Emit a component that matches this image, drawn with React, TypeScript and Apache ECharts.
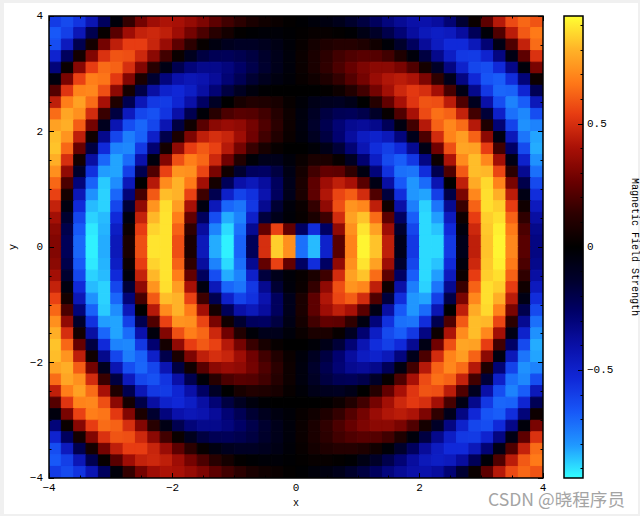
import React, { useEffect, useRef } from "react";
import * as echarts from "echarts";

// Cell values in hundredths. Estimated on a coarse 40x40 grid from ring radii and
// peak colours measured on the reference; not individually read per cell.
const xCenters = [-3.9,-3.7,-3.5,-3.3,-3.1,-2.9,-2.7,-2.5,-2.3,-2.1,-1.9,-1.7,-1.5,-1.3,-1.1,-0.9,-0.7,-0.5,-0.3,-0.1,0.1,0.3,0.5,0.7,0.9,1.1,1.3,1.5,1.7,1.9,2.1,2.3,2.5,2.7,2.9,3.1,3.3,3.5,3.7,3.9];
const yCenters = [3.9,3.7,3.5,3.3,3.1,2.9,2.7,2.5,2.3,2.1,1.9,1.7,1.5,1.3,1.1,0.9,0.7,0.5,0.3,0.1,-0.1,-0.3,-0.5,-0.7,-0.9,-1.1,-1.3,-1.5,-1.7,-1.9,-2.1,-2.3,-2.5,-2.7,-2.9,-3.1,-3.3,-3.5,-3.7,-3.9];
const fieldRows = [
[-59,-63,-57,-43,-24,-3,15,29,38,41,40,36,31,24,18,13,8,5,3,1,-1,-3,-5,-8,-13,-18,-24,-31,-36,-40,-41,-38,-29,-15,3,24,43,57,63,59],
[-67,-60,-44,-21,2,23,38,46,48,45,38,29,20,12,6,1,-1,-2,-2,-1,1,2,2,1,-1,-6,-12,-20,-29,-38,-45,-48,-46,-38,-23,-2,21,44,60,67],
[-64,-46,-21,6,29,45,54,54,47,37,24,13,2,-5,-9,-11,-11,-9,-6,-2,2,6,9,11,11,9,5,-2,-13,-24,-37,-47,-54,-54,-45,-29,-6,21,46,64],
[-51,-24,6,32,51,59,58,48,34,18,3,-9,-18,-22,-23,-21,-18,-13,-8,-3,3,8,13,18,21,23,22,18,9,-3,-18,-34,-48,-58,-59,-51,-32,-6,24,51],
[-30,3,33,54,64,62,50,32,12,-6,-21,-30,-34,-34,-31,-26,-20,-14,-8,-3,3,8,14,20,26,31,34,34,30,21,6,-12,-32,-50,-62,-64,-54,-33,-3,30],
[-4,30,55,68,66,53,32,8,-14,-31,-41,-44,-42,-37,-29,-22,-15,-9,-5,-2,2,5,9,15,22,29,37,42,44,41,31,14,-8,-32,-53,-66,-68,-55,-30,4],
[22,52,69,70,58,34,6,-19,-39,-50,-53,-48,-39,-29,-18,-10,-4,-1,0,0,0,0,1,4,10,18,29,39,48,53,50,39,19,-6,-34,-58,-70,-69,-52,-22],
[45,68,76,64,40,9,-21,-44,-58,-59,-52,-40,-25,-11,0,7,10,9,7,2,-2,-7,-9,-10,-7,0,11,25,40,52,59,58,44,21,-9,-40,-64,-76,-68,-45],
[64,77,72,49,16,-18,-46,-62,-65,-57,-40,-21,-2,12,20,23,22,18,11,4,-4,-11,-18,-22,-23,-20,-12,2,21,40,57,65,62,46,18,-16,-49,-72,-77,-64],
[76,79,61,29,-9,-43,-64,-70,-62,-43,-18,5,23,34,37,35,29,21,13,4,-4,-13,-21,-29,-35,-37,-34,-23,-5,18,43,62,70,64,43,9,-29,-61,-79,-76],
[82,73,45,5,-34,-62,-75,-69,-49,-20,8,31,45,50,47,38,28,18,10,3,-3,-10,-18,-28,-38,-47,-50,-45,-31,-8,20,49,69,75,62,34,-5,-45,-73,-82],
[83,63,26,-18,-54,-76,-77,-58,-28,6,35,54,60,55,43,29,16,7,2,0,0,-2,-7,-16,-29,-43,-55,-60,-54,-35,-6,28,58,77,76,54,18,-26,-63,-83],
[79,50,6,-39,-70,-82,-71,-41,-4,32,58,68,63,48,28,10,-2,-8,-8,-3,3,8,8,2,-10,-28,-48,-63,-68,-58,-32,4,41,71,82,70,39,-6,-50,-79],
[72,35,-13,-56,-81,-82,-60,-21,21,55,73,72,56,30,5,-14,-24,-25,-18,-6,6,18,25,24,14,-5,-30,-56,-72,-73,-55,-21,21,60,82,81,56,13,-35,-72],
[63,20,-30,-69,-87,-78,-45,0,43,71,80,67,39,6,-23,-40,-45,-38,-24,-8,8,24,38,45,40,23,-6,-39,-67,-80,-71,-43,0,45,78,87,69,30,-20,-63],
[55,6,-44,-79,-88,-70,-30,19,60,82,80,55,17,-21,-49,-61,-56,-42,-24,-8,8,24,42,56,61,49,21,-17,-55,-80,-82,-60,-19,30,70,88,79,44,-6,-55],
[46,-5,-54,-85,-88,-62,-16,35,73,88,75,40,-5,-45,-70,-73,-58,-35,-15,-3,3,15,35,58,73,70,45,5,-40,-75,-88,-73,-35,16,62,88,85,54,5,-46],
[39,-14,-62,-88,-85,-54,-4,46,81,89,68,25,-24,-64,-83,-76,-49,-17,-8,-2,2,8,17,49,76,83,64,24,-25,-68,-89,-81,-46,4,54,85,88,62,14,-39],
[34,-20,-67,-91,-84,-48,4,54,86,89,62,14,-38,-76,-89,-72,-35,25,55,25,-25,-55,-25,35,72,89,76,38,-14,-62,-89,-86,-54,-4,48,84,91,67,20,-34],
[32,-23,-70,-92,-83,-45,8,58,89,89,58,8,-45,-83,-92,-69,-23,50,85,72,-72,-85,-50,23,69,92,83,45,-8,-58,-89,-89,-58,-8,45,83,92,70,23,-32],
[32,-23,-70,-92,-83,-45,8,58,89,89,58,8,-45,-83,-92,-69,-23,50,85,72,-72,-85,-50,23,69,92,83,45,-8,-58,-89,-89,-58,-8,45,83,92,70,23,-32],
[34,-20,-67,-91,-84,-48,4,54,86,89,62,14,-38,-76,-89,-72,-35,25,55,25,-25,-55,-25,35,72,89,76,38,-14,-62,-89,-86,-54,-4,48,84,91,67,20,-34],
[39,-14,-62,-88,-85,-54,-4,46,81,89,68,25,-24,-64,-83,-76,-49,-17,-8,-2,2,8,17,49,76,83,64,24,-25,-68,-89,-81,-46,4,54,85,88,62,14,-39],
[46,-5,-54,-85,-88,-62,-16,35,73,88,75,40,-5,-45,-70,-73,-58,-35,-15,-3,3,15,35,58,73,70,45,5,-40,-75,-88,-73,-35,16,62,88,85,54,5,-46],
[55,6,-44,-79,-88,-70,-30,19,60,82,80,55,17,-21,-49,-61,-56,-42,-24,-8,8,24,42,56,61,49,21,-17,-55,-80,-82,-60,-19,30,70,88,79,44,-6,-55],
[63,20,-30,-69,-87,-78,-45,0,43,71,80,67,39,6,-23,-40,-45,-38,-24,-8,8,24,38,45,40,23,-6,-39,-67,-80,-71,-43,0,45,78,87,69,30,-20,-63],
[72,35,-13,-56,-81,-82,-60,-21,21,55,73,72,56,30,5,-14,-24,-25,-18,-6,6,18,25,24,14,-5,-30,-56,-72,-73,-55,-21,21,60,82,81,56,13,-35,-72],
[79,50,6,-39,-70,-82,-71,-41,-4,32,58,68,63,48,28,10,-2,-8,-8,-3,3,8,8,2,-10,-28,-48,-63,-68,-58,-32,4,41,71,82,70,39,-6,-50,-79],
[83,63,26,-18,-54,-76,-77,-58,-28,6,35,54,60,55,43,29,16,7,2,0,0,-2,-7,-16,-29,-43,-55,-60,-54,-35,-6,28,58,77,76,54,18,-26,-63,-83],
[82,73,45,5,-34,-62,-75,-69,-49,-20,8,31,45,50,47,38,28,18,10,3,-3,-10,-18,-28,-38,-47,-50,-45,-31,-8,20,49,69,75,62,34,-5,-45,-73,-82],
[76,79,61,29,-9,-43,-64,-70,-62,-43,-18,5,23,34,37,35,29,21,13,4,-4,-13,-21,-29,-35,-37,-34,-23,-5,18,43,62,70,64,43,9,-29,-61,-79,-76],
[64,77,72,49,16,-18,-46,-62,-65,-57,-40,-21,-2,12,20,23,22,18,11,4,-4,-11,-18,-22,-23,-20,-12,2,21,40,57,65,62,46,18,-16,-49,-72,-77,-64],
[45,68,76,64,40,9,-21,-44,-58,-59,-52,-40,-25,-11,0,7,10,9,7,2,-2,-7,-9,-10,-7,0,11,25,40,52,59,58,44,21,-9,-40,-64,-76,-68,-45],
[22,52,69,70,58,34,6,-19,-39,-50,-53,-48,-39,-29,-18,-10,-4,-1,0,0,0,0,1,4,10,18,29,39,48,53,50,39,19,-6,-34,-58,-70,-69,-52,-22],
[-4,30,55,68,66,53,32,8,-14,-31,-41,-44,-42,-37,-29,-22,-15,-9,-5,-2,2,5,9,15,22,29,37,42,44,41,31,14,-8,-32,-53,-66,-68,-55,-30,4],
[-30,3,33,54,64,62,50,32,12,-6,-21,-30,-34,-34,-31,-26,-20,-14,-8,-3,3,8,14,20,26,31,34,34,30,21,6,-12,-32,-50,-62,-64,-54,-33,-3,30],
[-51,-24,6,32,51,59,58,48,34,18,3,-9,-18,-22,-23,-21,-18,-13,-8,-3,3,8,13,18,21,23,22,18,9,-3,-18,-34,-48,-58,-59,-51,-32,-6,24,51],
[-64,-46,-21,6,29,45,54,54,47,37,24,13,2,-5,-9,-11,-11,-9,-6,-2,2,6,9,11,11,9,5,-2,-13,-24,-37,-47,-54,-54,-45,-29,-6,21,46,64],
[-67,-60,-44,-21,2,23,38,46,48,45,38,29,20,12,6,1,-1,-2,-2,-1,1,2,2,1,-1,-6,-12,-20,-29,-38,-45,-48,-46,-38,-23,-2,21,44,60,67],
[-59,-63,-57,-43,-24,-3,15,29,38,41,40,36,31,24,18,13,8,5,3,1,-1,-3,-5,-8,-13,-18,-24,-31,-36,-40,-41,-38,-29,-15,3,24,43,57,63,59],
];
const barMin = -0.938;
const barMax = 0.938;
const barColors = ["#33ffff","#2098ff","#1858f8","#1028d8","#0a10a8","#00006a","#00002c","#000000","#2c0000","#6a0000","#a81006","#e63a12","#ff7a18","#ffb428","#ffff33"];
const barMinorTicks = [-0.9,-0.8,-0.7,-0.6,-0.4,-0.3,-0.2,-0.1,0.1,0.2,0.3,0.4,0.6,0.7,0.8,0.9];
const barMajorTicks = [-0.5,0,0.5];
const MONO = "Liberation Mono";
const halfCell = 0.1;

const fmt = (v: number) => String(v).replace("-", "\u2212");

export default function App() {
  const ref = useRef<HTMLDivElement>(null);
  useEffect(() => {
    document.body.style.margin = "0";
    const chart = echarts.init(ref.current!, null, { renderer: "svg" });
    const data: number[][] = [];
    fieldRows.forEach((row, j) => row.forEach((v, i) => data.push([xCenters[i], yCenters[j], v / 100])));
    const tick = { show: true, inside: true, length: 5, lineStyle: { color: "#000", width: 1 } };
    const minor = { show: true, splitNumber: 4, length: 2.5, lineStyle: { color: "#000", width: 1 } };
    const plotAxis = (position: string, labels: boolean, extra: any = {}) => ({
      type: "value", gridIndex: 0, min: -4, max: 4, interval: 2, position, z: 6,
      axisLine: { show: false, onZero: false }, splitLine: { show: false },
      axisTick: tick, minorTick: minor,
      axisLabel: { show: labels, formatter: fmt, color: "#000", fontFamily: MONO, fontSize: 11, margin: position === "bottom" ? 4 : 6 },
      ...extra,
    });
    const nameStyle = { color: "#000", fontFamily: MONO, fontSize: 10 };
    chart.setOption({
      animation: false,
      backgroundColor: "transparent",
      grid: [
        { left: 49, top: 16, width: 494, height: 462, show: true, borderColor: "#000", borderWidth: 1.5, backgroundColor: "transparent", z: 5 },
        { left: 564, top: 16, width: 19.5, height: 462, show: true, borderColor: "#000", borderWidth: 1.5, backgroundColor: "transparent", z: 5 },
      ],
      xAxis: [
        plotAxis("bottom", true, { name: "x", nameLocation: "middle", nameGap: 20, nameTextStyle: nameStyle }),
        plotAxis("top", false),
        { type: "value", gridIndex: 1, min: 0, max: 1, show: false },
      ],
      yAxis: [
        plotAxis("left", true, { name: "y", nameLocation: "middle", nameGap: 24, nameTextStyle: nameStyle }),
        plotAxis("right", false),
        {
          type: "value", gridIndex: 1, min: barMin, max: barMax, position: "right", z: 6,
          axisLine: { show: false, onZero: false }, splitLine: { show: false },
          axisTick: { show: true, inside: true, length: 2.5, customValues: barMinorTicks, lineStyle: { color: "#000", width: 1 } },
          axisLabel: { show: false },
        },
        {
          type: "value", gridIndex: 1, min: barMin, max: barMax, position: "right", z: 6,
          axisLine: { show: false, onZero: false }, splitLine: { show: false },
          axisTick: { show: true, inside: true, length: 5, customValues: barMajorTicks, lineStyle: { color: "#000", width: 1 } },
          axisLabel: { show: true, customValues: barMajorTicks, formatter: fmt, color: "#000", fontFamily: MONO, fontSize: 11, margin: 4 },
          name: "Magnetic Field Strength", nameLocation: "middle", nameRotate: -90, nameGap: 46, nameTextStyle: nameStyle,
        },
      ],
      visualMap: {
        type: "continuous", seriesIndex: 0, dimension: 2, min: barMin, max: barMax,
        left: 564, top: 16, itemWidth: 19.5, itemHeight: 462, padding: 0, calculable: false, text: null,
        showLabel: false, hoverLink: false, z: 1, inRange: { color: barColors },
      },
      graphic: [
        { type: "text", x: 488, y: 493, z: 20, style: { text: "CSDN @晓程序员", fill: "#a4a4a4", fontFamily: "Noto Sans CJK SC", fontSize: 17.6, lineHeight: 10 } },
      ],
      series: [
        {
          type: "custom", xAxisIndex: 0, yAxisIndex: 0, coordinateSystem: "cartesian2d", clip: true, z: 2,
          dimensions: ["x", "y", "v"], encode: { x: 0, y: 1 }, data, silent: true,
          renderItem: (_p: any, api: any) => {
            const x = api.value(0), y = api.value(1);
            const a = api.coord([x - halfCell, y + halfCell]);
            const b = api.coord([x + halfCell, y - halfCell]);
            const c = api.visual("color");
            return { type: "rect", shape: { x: a[0], y: a[1], width: b[0] - a[0], height: b[1] - a[1] }, style: { fill: c, stroke: c, lineWidth: 1 } };
          },
        },
      ],
    });
    return () => chart.dispose();
  }, []);
  return (
    <div style={{ position: "relative", width: 640, height: 516, background: "#f0f0f0", overflow: "hidden" }}>
      <div style={{ position: "absolute", left: 4, top: 3, width: 634, height: 511, background: "#fff" }} />
      <div ref={ref} style={{ position: "absolute", left: 0, top: 0, width: 640, height: 516 }} />
    </div>
  );
}
